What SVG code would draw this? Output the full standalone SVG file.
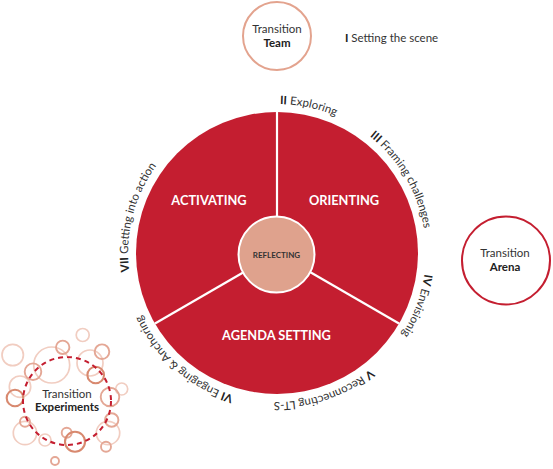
<svg xmlns="http://www.w3.org/2000/svg" xmlns:xlink="http://www.w3.org/1999/xlink" width="553" height="469" viewBox="0 0 553 469">
<style>
.t{font-family:Lato,"Open Sans",sans-serif;font-size:11.5px;fill:#333}
.b{font-weight:bold;fill:#222}
.arc{font-family:Lato,"Open Sans",sans-serif;font-size:11.5px;fill:#333}
.seg{font-family:Lato,"Open Sans",sans-serif;font-size:12.8px;font-weight:bold;fill:#fff;text-anchor:middle}
.c{text-anchor:middle}
.bl{fill:none;stroke:#f1cdc1;stroke-width:1.7}
.bm{fill:none;stroke:#e4a795;stroke-width:1.9}
.bd{fill:none;stroke:#d8896f;stroke-width:2.1}
</style>
<defs>
<path id="ring" d="M277,104 A149,149 0 1,1 277,402 A149,149 0 1,1 277,104"/>
</defs>
<rect width="553" height="469" fill="#fff"/>

<g id="cycle">
<circle cx="277" cy="253" r="141" fill="#c41e30"/>
<g stroke="#fff" stroke-width="2.2">
<line x1="277" y1="112" x2="277" y2="216"/>
<line x1="244" y1="272" x2="155" y2="323.5"/>
<line x1="310" y1="272" x2="399" y2="323.5"/>
</g>
<text class="seg" x="209" y="205">ACTIVATING</text>
<text class="seg" x="344" y="205">ORIENTING</text>
<text class="seg" x="276.5" y="340">AGENDA SETTING</text>
</g>

<g id="reflecting">
<circle cx="276.5" cy="254.5" r="38" fill="#dfa28d" stroke="#fff" stroke-width="2"/>
<text class="c" x="276.5" y="257.5" style="font-family:Lato,'Open Sans',sans-serif;font-size:8px;font-weight:bold;fill:#333">REFLECTING</text>
</g>

<g id="phase-labels" class="arc">
<text><textPath xlink:href="#ring" startOffset="3"><tspan class="b">II</tspan> Exploring</textPath></text>
<text><textPath xlink:href="#ring" startOffset="100"><tspan class="b">III</tspan> Framing challenges</textPath></text>
<text><textPath xlink:href="#ring" startOffset="255"><tspan class="b">IV</tspan> Envisionig</textPath></text>
<text><textPath xlink:href="#ring" startOffset="367"><tspan class="b">V</tspan> Reconnecting LT-S</textPath></text>
<text><textPath xlink:href="#ring" startOffset="512"><tspan class="b">VI</tspan> Engaging &amp; Anchoring</textPath></text>
<text><textPath xlink:href="#ring" startOffset="683"><tspan class="b">VII</tspan> Getting into action</textPath></text>
</g>

<g id="team">
<circle cx="277" cy="36" r="34" fill="#fff" stroke="#e3a38e" stroke-width="2"/>
<text class="t c" x="277" y="33">Transition</text>
<text class="t c b" x="277" y="47">Team</text>
</g>
<g id="setting-scene">
<text class="t" x="345" y="42"><tspan class="b">I</tspan> Setting the scene</text>
</g>

<g id="arena">
<circle cx="506" cy="260.5" r="44" fill="#fff" stroke="#c41e30" stroke-width="2"/>
<text class="t c" x="505" y="257">Transition</text>
<text class="t c b" x="505" y="271">Arena</text>
</g>

<g id="experiments">
<g>
<circle class="bl" cx="51.7" cy="365" r="18"/>
<circle class="bl" cx="12.7" cy="355" r="10.7"/>
<circle class="bl" cx="90" cy="363" r="13"/>
<circle class="bl" cx="82.7" cy="335" r="6.5"/>
<circle class="bl" cx="20" cy="386.7" r="10.7"/>
<circle class="bl" cx="121.7" cy="389" r="6"/>
<circle class="bl" cx="25" cy="433" r="11.7"/>
<circle class="bl" cx="108" cy="433" r="11.7"/>
<circle class="bl" cx="45" cy="440" r="6"/>
<circle class="bm" cx="62.7" cy="347.3" r="6.7"/>
<circle class="bm" cx="102" cy="351.7" r="7.3"/>
<circle class="bm" cx="33" cy="371.7" r="8.3"/>
<circle class="bm" cx="110" cy="397" r="9.3"/>
<circle class="bm" cx="25" cy="421.7" r="5"/>
<circle class="bm" cx="111.7" cy="420" r="6.7"/>
<circle class="bm" cx="66.7" cy="432.7" r="5"/>
<circle class="bm" cx="106" cy="446.7" r="5"/>
<circle class="bm" cx="55" cy="461" r="4"/>
<circle class="bd" cx="95.7" cy="375" r="8.3"/>
<circle class="bd" cx="15" cy="398" r="8.3"/>
<circle class="bd" cx="75" cy="441.7" r="10"/>
</g>
<circle cx="67" cy="401" r="44" fill="none" stroke="#c41e30" stroke-width="2" stroke-dasharray="5,4"/>
<text class="t c" x="67" y="398">Transition</text>
<text class="t c b" x="67" y="411">Experiments</text>
</g>
</svg>
